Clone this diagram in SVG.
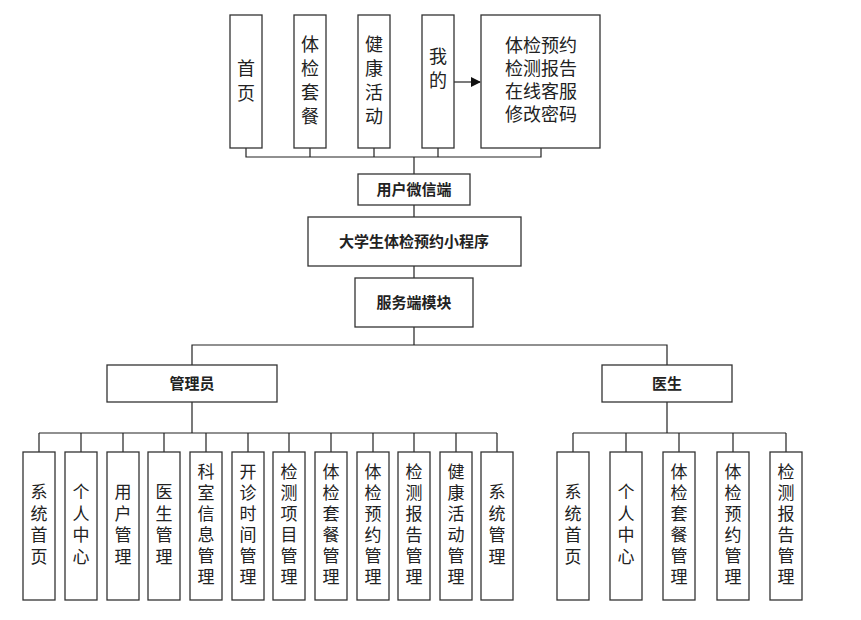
<svg xmlns="http://www.w3.org/2000/svg" width="861" height="620" viewBox="0 0 861 620">
<style>
rect{fill:#fff;stroke:#333;stroke-width:1.3}
text{font-family:"Noto Sans CJK SC",sans-serif;fill:#222;text-anchor:middle}
.v{font-size:17px}
.t{font-size:18px}
.h{font-size:15px;font-weight:bold}
#connectors path{fill:none;stroke:#222;stroke-width:1.2}
</style>
<defs><marker id="ar" markerWidth="10" markerHeight="10" refX="9" refY="5" orient="auto" markerUnits="userSpaceOnUse"><path d="M0,0 L10,5 L0,10 Z" fill="#111"/></marker></defs>
<g id="connectors">
<path d="M246,148V157H541V148M310,148V157M374,148V157M438,148V157M414,157V174"/>
<path d="M414,205V217M414,266V278M414,327V345M192,365V345H667V365"/>
<path d="M192,402V433M39,433H497M39,433V452M81,433V452M123,433V452M164,433V452M206,433V452M248,433V452M289,433V452M331,433V452M373,433V452M414,433V452M456,433V452M497,433V452" />
<path d="M667,402V433M573,433H786M573,433V452M626,433V452M679,433V452M733,433V452M786,433V452"/>
<path d="M454,82H480" marker-end="url(#ar)" stroke-width="1.8"/>
</g>
<g id="n-home"><rect x="230" y="15" width="32" height="133"/><text class="t" x="246" y="75">首<tspan x="246" dy="25">页</tspan></text></g>
<g id="n-pkg"><rect x="294" y="15" width="32" height="133"/><text class="t" x="310" y="51">体<tspan x="310" dy="24">检</tspan><tspan x="310" dy="24">套</tspan><tspan x="310" dy="24">餐</tspan></text></g>
<g id="n-act"><rect x="358" y="15" width="32" height="133"/><text class="t" x="374" y="51">健<tspan x="374" dy="24">康</tspan><tspan x="374" dy="24">活</tspan><tspan x="374" dy="24">动</tspan></text></g>
<g id="n-me"><rect x="422" y="15" width="32" height="133"/><text class="t" x="438" y="63">我<tspan x="438" dy="24">的</tspan></text></g>
<g id="n-mine"><rect x="481" y="15" width="119" height="133"/><text class="t" x="541" y="52">体检预约<tspan x="541" dy="23">检测报告</tspan><tspan x="541" dy="23">在线客服</tspan><tspan x="541" dy="23">修改密码</tspan></text></g>
<g id="n-wx"><rect x="358" y="174" width="112" height="31"/><text class="h" x="414" y="195">用户微信端</text></g>
<g id="n-app"><rect x="308" y="217" width="213" height="49"/><text class="h" x="414" y="247">大学生体检预约小程序</text></g>
<g id="n-srv"><rect x="355" y="278" width="118" height="49"/><text class="h" x="414" y="308">服务端模块</text></g>
<g id="n-admin"><rect x="107" y="365" width="170" height="37"/><text class="h" x="192" y="389">管理员</text></g>
<g id="n-doc"><rect x="602" y="365" width="130" height="37"/><text class="h" x="667" y="389">医生</text></g>
<g id="a1"><rect x="23" y="452" width="32" height="148"/><text class="v" x="39" y="498">系<tspan x="39" dy="21.5">统</tspan><tspan x="39" dy="21.5">首</tspan><tspan x="39" dy="21.5">页</tspan></text></g>
<g id="a2"><rect x="65" y="452" width="32" height="148"/><text class="v" x="81" y="498">个<tspan x="81" dy="21.5">人</tspan><tspan x="81" dy="21.5">中</tspan><tspan x="81" dy="21.5">心</tspan></text></g>
<g id="a3"><rect x="107" y="452" width="32" height="148"/><text class="v" x="123" y="498">用<tspan x="123" dy="21.5">户</tspan><tspan x="123" dy="21.5">管</tspan><tspan x="123" dy="21.5">理</tspan></text></g>
<g id="a4"><rect x="148" y="452" width="32" height="148"/><text class="v" x="164" y="498">医<tspan x="164" dy="21.5">生</tspan><tspan x="164" dy="21.5">管</tspan><tspan x="164" dy="21.5">理</tspan></text></g>
<g id="a5"><rect x="190" y="452" width="32" height="148"/><text class="v" x="206" y="478">科<tspan x="206" dy="21">室</tspan><tspan x="206" dy="21">信</tspan><tspan x="206" dy="21">息</tspan><tspan x="206" dy="21">管</tspan><tspan x="206" dy="21">理</tspan></text></g>
<g id="a6"><rect x="232" y="452" width="32" height="148"/><text class="v" x="248" y="478">开<tspan x="248" dy="21">诊</tspan><tspan x="248" dy="21">时</tspan><tspan x="248" dy="21">间</tspan><tspan x="248" dy="21">管</tspan><tspan x="248" dy="21">理</tspan></text></g>
<g id="a7"><rect x="273" y="452" width="32" height="148"/><text class="v" x="289" y="478">检<tspan x="289" dy="21">测</tspan><tspan x="289" dy="21">项</tspan><tspan x="289" dy="21">目</tspan><tspan x="289" dy="21">管</tspan><tspan x="289" dy="21">理</tspan></text></g>
<g id="a8"><rect x="315" y="452" width="32" height="148"/><text class="v" x="331" y="478">体<tspan x="331" dy="21">检</tspan><tspan x="331" dy="21">套</tspan><tspan x="331" dy="21">餐</tspan><tspan x="331" dy="21">管</tspan><tspan x="331" dy="21">理</tspan></text></g>
<g id="a9"><rect x="357" y="452" width="32" height="148"/><text class="v" x="373" y="478">体<tspan x="373" dy="21">检</tspan><tspan x="373" dy="21">预</tspan><tspan x="373" dy="21">约</tspan><tspan x="373" dy="21">管</tspan><tspan x="373" dy="21">理</tspan></text></g>
<g id="a10"><rect x="398" y="452" width="32" height="148"/><text class="v" x="414" y="478">检<tspan x="414" dy="21">测</tspan><tspan x="414" dy="21">报</tspan><tspan x="414" dy="21">告</tspan><tspan x="414" dy="21">管</tspan><tspan x="414" dy="21">理</tspan></text></g>
<g id="a11"><rect x="440" y="452" width="32" height="148"/><text class="v" x="456" y="478">健<tspan x="456" dy="21">康</tspan><tspan x="456" dy="21">活</tspan><tspan x="456" dy="21">动</tspan><tspan x="456" dy="21">管</tspan><tspan x="456" dy="21">理</tspan></text></g>
<g id="a12"><rect x="481" y="452" width="32" height="148"/><text class="v" x="497" y="498">系<tspan x="497" dy="21.5">统</tspan><tspan x="497" dy="21.5">管</tspan><tspan x="497" dy="21.5">理</tspan></text></g>
<g id="d1"><rect x="557" y="452" width="32" height="148"/><text class="v" x="573" y="498">系<tspan x="573" dy="21.5">统</tspan><tspan x="573" dy="21.5">首</tspan><tspan x="573" dy="21.5">页</tspan></text></g>
<g id="d2"><rect x="610" y="452" width="32" height="148"/><text class="v" x="626" y="498">个<tspan x="626" dy="21.5">人</tspan><tspan x="626" dy="21.5">中</tspan><tspan x="626" dy="21.5">心</tspan></text></g>
<g id="d3"><rect x="663" y="452" width="32" height="148"/><text class="v" x="679" y="478">体<tspan x="679" dy="21">检</tspan><tspan x="679" dy="21">套</tspan><tspan x="679" dy="21">餐</tspan><tspan x="679" dy="21">管</tspan><tspan x="679" dy="21">理</tspan></text></g>
<g id="d4"><rect x="717" y="452" width="32" height="148"/><text class="v" x="733" y="478">体<tspan x="733" dy="21">检</tspan><tspan x="733" dy="21">预</tspan><tspan x="733" dy="21">约</tspan><tspan x="733" dy="21">管</tspan><tspan x="733" dy="21">理</tspan></text></g>
<g id="d5"><rect x="770" y="452" width="32" height="148"/><text class="v" x="786" y="478">检<tspan x="786" dy="21">测</tspan><tspan x="786" dy="21">报</tspan><tspan x="786" dy="21">告</tspan><tspan x="786" dy="21">管</tspan><tspan x="786" dy="21">理</tspan></text></g>
</svg>
